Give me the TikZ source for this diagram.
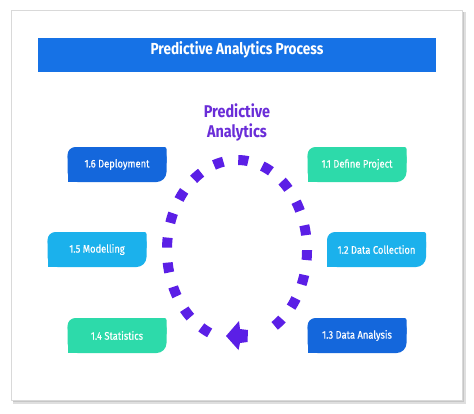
\documentclass[tikz,border=0pt]{standalone}
\usepackage{fontspec}
\setmainfont{Fira Sans}[FakeStretch=0.85]
\newfontfamily\stagefont{Fira Sans}[FakeStretch=0.85,FakeBold=0.4]
\usepackage{tikz}
\usetikzlibrary{calc}

\definecolor{barblue}{HTML}{1672E6}
\definecolor{darkstage}{HTML}{1467DC}
\definecolor{lightstage}{HTML}{1BB1EC}
\definecolor{tealstage}{HTML}{2DDAAA}
\definecolor{ringpurple}{HTML}{5B1FE6}
\definecolor{textpurple}{HTML}{6A2DD8}

\tikzset{
	stagebox/.style={minimum width=99pt, minimum height=35pt, inner sep=0pt, fill=white,
		text=white, font=\stagefont\fontsize{11}{13}\selectfont,
		path picture={
			\fill[#1, rounded corners=10pt] (path picture bounding box.south west) rectangle (path picture bounding box.north east);
			\fill[#1, rounded corners=8pt] (path picture bounding box.west) rectangle (path picture bounding box.north);
			\fill[#1, rounded corners=2pt] (path picture bounding box.north) rectangle (path picture bounding box.east);
			\fill[#1] (path picture bounding box.west) rectangle (path picture bounding box.south);
		}},
	dashring/.style={ringpurple, line width=10pt, dash pattern=on 10pt off 15pt},
}

\begin{document}
\begin{tikzpicture}[line cap=butt,line join=round,x=1pt,y=-1pt]
		\useasboundingbox (0,0) rectangle (474,413);
		% frame with shadow
		\fill[gray!25] (13,12) rectangle (465.5,403.5);
		\fill[gray!45] (12.5,11.5) rectangle (464,402);
		\draw[gray!30, fill=white, line width=1pt] (11,10) rectangle (462.5,400);
		% title bar
		\fill[barblue] (38,38) rectangle (436,72);
		\node[text=white, font=\bfseries\fontsize{16}{18}\selectfont] (title) at (237,50) {Predictive Analytics Process};
		\node[text=textpurple, font=\bfseries\fontsize{17}{20}\selectfont, align=center] (core) at (237,122) {Predictive\\Analytics};
		% stages, left
		\node[stagebox=darkstage] (deploy) at (117,164.5) {1.6 Deployment};
		\node[stagebox=lightstage] (model) at (97,249.5) {1.5 Modelling};
		\node[stagebox=tealstage] (stats) at (117,335.5) {1.4 Statistics};
		% stages, right
		\node[stagebox=tealstage] (define) at (357,164.5) {1.1 Define Project};
		\node[stagebox=lightstage] (collect) at (376.5,249.5) {1.2 Data Collection};
		\node[stagebox=darkstage] (analyse) at (357,335.5) {1.3 Data Analysis};
		% cycle
		\draw[dashring] (237,250) ++(113:70 and 90) arc[start angle=113, end angle=427, x radius=70, y radius=90];
		\fill[ringpurple] (226,336) -- (239,321) -- (240,329) -- (248,330) -- (247.5,342) -- (240,343) -- (238.5,350) -- cycle;
		
		\end{tikzpicture}
\end{document}
